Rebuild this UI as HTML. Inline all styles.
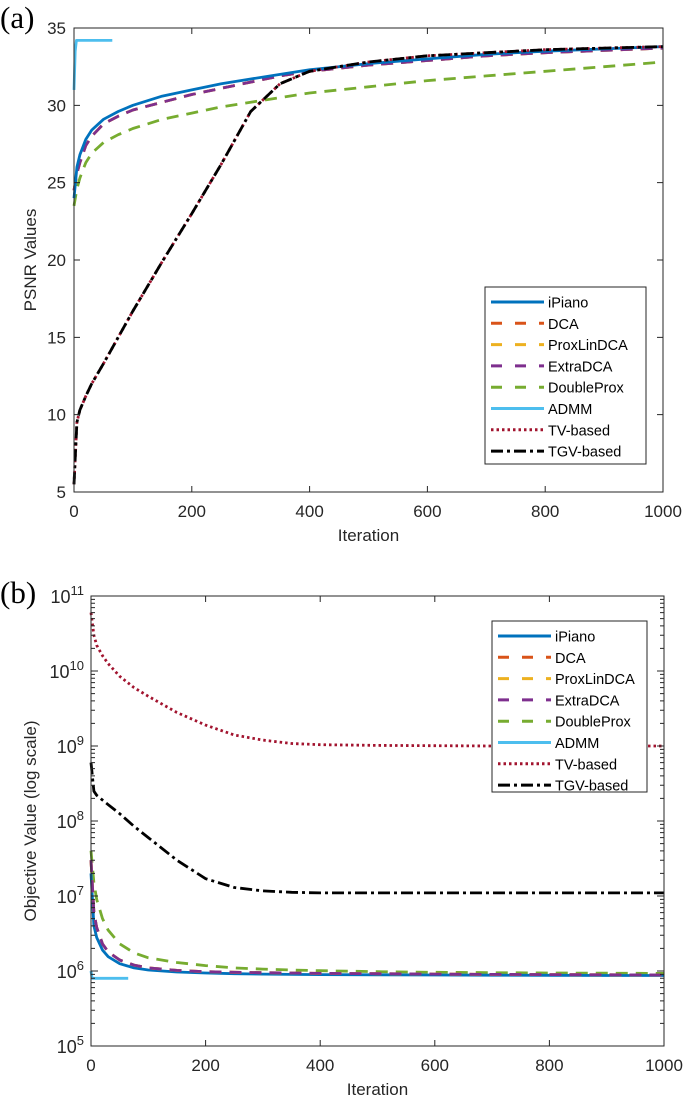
<!DOCTYPE html>
<html><head><meta charset="utf-8"><style>
body{margin:0;background:#fff}
svg{font-family:"Liberation Sans",sans-serif}
</style></head><body>
<svg id="s" width="685" height="1099" xmlns="http://www.w3.org/2000/svg"></svg>
<script>
const iters=[0,5,10,20,30,50,75,100,150,200,250,300,350,400,500,600,700,800,900,1000];
// PSNR (a)
const psnrIPiano=[24,26,26.8,27.8,28.4,29.1,29.6,30,30.6,31,31.4,31.7,32,32.3,32.7,33,33.3,33.5,33.65,33.8];
const psnrExtra=[24.5,25.6,26.3,27.4,28,28.8,29.3,29.7,30.2,30.7,31.1,31.5,31.9,32.2,32.6,32.9,33.2,33.4,33.55,33.7];
const psnrDouble=[23.5,24.6,25.3,26.3,26.9,27.6,28.1,28.5,29.1,29.5,29.9,30.2,30.5,30.8,31.2,31.6,31.9,32.2,32.5,32.8];
const psnrTGV=[5.5,9.5,10.3,11.2,12,13.3,15,16.7,19.9,23,26.2,29.6,31.4,32.2,32.8,33.2,33.4,33.6,33.7,33.8];
const admmIters=[0,2,4,65];
const psnrADMM=[31,33.5,34.2,34.2];
// Objective (b)
const objTV=[6e10,3e10,2.2e10,1.6e10,1.25e10,8.5e9,6e9,4.6e9,2.8e9,1.9e9,1.4e9,1.2e9,1.08e9,1.04e9,1.02e9,1.01e9,1e9,1e9,1e9,1e9];
const objTGV=[6e8,2.5e8,2.2e8,1.9e8,1.65e8,1.25e8,8.5e7,6e7,3e7,1.7e7,1.3e7,1.17e7,1.12e7,1.1e7,1.1e7,1.1e7,1.1e7,1.1e7,1.1e7,1.1e7];
const objIPiano=[2e7,4e6,2.8e6,1.9e6,1.55e6,1.25e6,1.1e6,1.03e6,9.7e5,9.4e5,9.2e5,9.1e5,9e5,8.95e5,8.9e5,8.85e5,8.8e5,8.75e5,8.72e5,8.7e5];
const objExtra=[3e7,6e6,3.8e6,2.3e6,1.8e6,1.4e6,1.2e6,1.1e6,1.02e6,9.8e5,9.6e5,9.5e5,9.4e5,9.3e5,9.2e5,9.1e5,9e5,8.95e5,8.9e5,8.85e5];
const objDouble=[4e7,1.5e7,9e6,5e6,3.5e6,2.3e6,1.75e6,1.5e6,1.3e6,1.18e6,1.1e6,1.06e6,1.03e6,1.01e6,9.8e5,9.6e5,9.5e5,9.4e5,9.35e5,9.3e5];
const objADMM=[1e6,8e5,8e5,8e5];
const xTicks=[0,200,400,600,800,1000];
const psnrTicks=[5,10,15,20,25,30,35];
const logTicks=[5,6,7,8,9,10,11];
const legendNames=["iPiano","DCA","ProxLinDCA","ExtraDCA","DoubleProx","ADMM","TV-based","TGV-based"];

const S=document.getElementById('s');const NS='http://www.w3.org/2000/svg';
function el(t,a,p){const e=document.createElementNS(NS,t);for(const k in a)e.setAttribute(k,a[k]);(p||S).appendChild(e);return e;}
function txt(x,y,s,a){const e=el('text',Object.assign({x:x,y:y,'font-size':17,fill:'#262626','text-anchor':'middle'},a||{}));e.textContent=s;return e;}
const C={ip:'#0072BD',dca:'#D95319',px:'#EDB120',ex:'#7E2F8E',db:'#77AC30',ad:'#4DBEEE',tv:'#A2142F',tg:'#000'};
const styles=[[C.ip,2.8,''],[C.dca,2.8,'12 8'],[C.px,2.8,'12 8'],[C.ex,2.8,'12 8'],[C.db,2.8,'12 8'],[C.ad,2.8,''],[C.tv,2.8,'2.5 3'],[C.tg,2.8,'12 4 3 4']];

function plot(P){
  const X=v=>P.x0+(P.x1-P.x0)*v/1000;
  const Y=P.Y;
  const g=el('g',{});
  el('rect',{x:P.x0,y:P.y0,width:P.x1-P.x0,height:P.y1-P.y0,fill:'#fff',stroke:'none'},g);
  function line(xs,ys,st,nm){
    const d=xs.map((x,i)=>(i?'L':'M')+X(x).toFixed(1)+','+Y(ys[i]).toFixed(1)).join('');
    const p=el('path',{d:d,fill:'none',stroke:st[0],'stroke-width':st[1],'stroke-dasharray':st[2],'stroke-linejoin':'round'},g);
    
  }
  P.series.forEach(s=>line(s[0],s[1],styles[s[2]],s[3]));
  const ax=el('g',{stroke:'#262626','stroke-width':1,fill:'none'},g);
  
  el('path',{d:`M${P.x0},${P.y0}H${P.x1}V${P.y1}H${P.x0}Z`},ax);
  xTicks.forEach(t=>{const x=X(t);el('path',{d:`M${x},${P.y1}v-6M${x},${P.y0}v6`},ax);
    const l=txt(x,P.y1+25,String(t));});
  P.yt(ax);
  const xl=txt((P.x0+P.x1)/2,P.y1+49,'Iteration',{'font-size':17});
  const yl=txt(0,0,P.ylab,{'font-size':17,transform:`translate(${P.ylx},${(P.y0+P.y1)/2}) rotate(-90)`});
  const pl=txt(0,P.tagY,P.tag,{'font-size':31,'font-family':'Liberation Serif,serif',fill:'#000','text-anchor':'start'});
  const L=P.leg;const lg=el('g',{});
  el('rect',{x:L[0],y:L[1],width:L[2],height:L[3],fill:'#fff',stroke:'#262626','stroke-width':1},lg);
  legendNames.forEach((n,i)=>{const y=L[1]+15+i*21.3;const st=styles[i];
    const e=el('g',{},lg);
    el('path',{d:`M${L[0]+6},${y}h53`,stroke:st[0],'stroke-width':3,'stroke-dasharray':i>0&&i<5?'11 13':st[2],fill:'none'},e);
    const t=txt(L[0]+63,y+5.5,n,{'text-anchor':'start','font-size':14.5,fill:'#000'});e.appendChild(t);});
}
const a0=28,a1=492;
plot({name:'psnr-chart',x0:74,x1:663,y0:a0,y1:a1,tag:'(a)',tagY:28,ylab:'PSNR Values',ylx:36,
 Y:v=>a1-(v-5)*(a1-a0)/30,leg:[485,287,161,177],
 series:[[iters,psnrDouble,4,'doubleprox-line'],[iters,psnrExtra,1,'dca-line'],[iters,psnrExtra,2,'proxlindca-line'],[iters,psnrExtra,3,'extradca-line'],[iters,psnrIPiano,0,'ipiano-line'],[iters,psnrTGV,6,'tv-line'],[iters,psnrTGV,7,'tgv-line'],[admmIters,psnrADMM,5,'admm-line']],
 yt:ax=>psnrTicks.forEach(t=>{const y=a1-(t-5)*(a1-a0)/30;el('path',{d:`M74,${y}h6M663,${y}h-6`},ax);
   const l=txt(66,y+6,String(t),{'text-anchor':'end'});})});
const b0=596,b1=1046;
const LY=v=>b1-(Math.log10(v)-5)*(b1-b0)/6;
plot({name:'objective-chart',x0:91,x1:664,y0:b0,y1:b1,tag:'(b)',tagY:603,ylab:'Objective Value (log scale)',ylx:36,
 Y:LY,leg:[492,621,155,171],
 series:[[iters,objTV,6,'tv-line'],[iters,objTGV,7,'tgv-line'],[iters,objDouble,4,'doubleprox-line'],[iters,objIPiano,0,'ipiano-line'],[iters,objExtra,1,'dca-line'],[iters,objExtra,2,'proxlindca-line'],[iters,objExtra,3,'extradca-line'],[admmIters,objADMM,5,'admm-line']],
 yt:ax=>{logTicks.forEach(t=>{const y=LY(Math.pow(10,t));el('path',{d:`M91,${y}h7M664,${y}h-7`},ax);
   const l=el('text',{x:84,y:y+7,'font-size':18,fill:'#262626','text-anchor':'end'});
   
   l.innerHTML='10<tspan dy="-8" font-size="13">'+t+'</tspan>';
   if(t<11)for(let m=2;m<10;m++){const yy=LY(m*Math.pow(10,t));el('path',{d:`M91,${yy}h4M664,${yy}h-4`},ax);}});}});
</script>
</body></html>
